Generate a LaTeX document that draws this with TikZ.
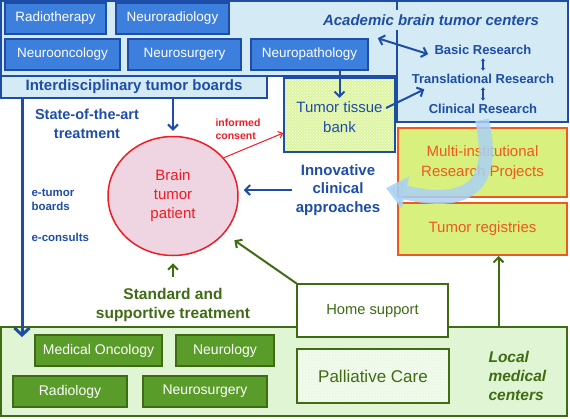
\documentclass[tikz,border=0pt]{standalone}
\usepackage{fontspec}
\setmainfont{Liberation Sans}
\usetikzlibrary{arrows.meta,shapes.geometric,patterns}
\definecolor{acadblue}{HTML}{1E4DA8}
\definecolor{acadfill}{HTML}{D4EBF5}
\definecolor{boxblue}{HTML}{3D7FDC}
\definecolor{orangeline}{HTML}{F0591E}
\definecolor{limefill}{HTML}{D8F07E}
\definecolor{patred}{HTML}{EE1C25}
\definecolor{patfill}{HTML}{EFD5E1}
\definecolor{localgreen}{HTML}{3E6B14}
\definecolor{boxgreen}{HTML}{5A9C2A}
\definecolor{localfill}{HTML}{E0F5D3}
\definecolor{bankfill}{HTML}{DDF5A0}
\definecolor{curvblue}{HTML}{A9D1F5}
\newcommand\pxfont[2]{\fontsize{#1}{#2}\selectfont}

\begin{document}
\begin{tikzpicture}[x=1pt, y=-1pt,
  bluebox/.style={draw=acadblue, fill=boxblue, line width=1.5pt, text=white, minimum height=31pt, inner sep=0pt, font=\pxfont{13.5}{16}},
  greenbox/.style={draw=localgreen, fill=boxgreen, line width=1.5pt, text=white, minimum height=31pt, inner sep=0pt, font=\pxfont{14}{16}},
  limebox/.style={draw=orangeline, fill=limefill, line width=2pt, text=orangeline, minimum width=169pt, inner sep=0pt, align=center, font=\pxfont{15}{20}},
  research/.style={text=acadblue, font=\bfseries\pxfont{13}{15}},
  bluelabel/.style={text=acadblue, align=center, font=\bfseries\pxfont{15}{18.5}},
  bluearrow/.style={acadblue, line width=2pt, -{Straight Barb[length=5pt,width=10pt]}},
  greenarrow/.style={localgreen, line width=2pt, -{Straight Barb[length=5pt,width=10pt]}}]
\useasboundingbox (0,0) rectangle (570,418);
\draw[acadblue, fill=acadfill, line width=1.5pt] (1,1) rectangle (397,76);
\draw[acadblue, fill=acadfill, line width=1.5pt] (397,1) rectangle (568,122);
\node[bluebox, minimum width=101pt] (radio) at (55.5,18.5) {Radiotherapy};
\node[bluebox, minimum width=113pt] (neurorad) at (172.5,18.5) {Neuroradiology};
\node[bluebox, minimum width=115pt] (neuroonc) at (62.5,54.5) {Neurooncology};
\node[bluebox, minimum width=113pt] (neurosurg) at (184.5,54.5) {Neurosurgery};
\node[bluebox, minimum width=117pt] (neuropath) at (309.5,54.5) {Neuropathology};
\node[draw=acadblue, fill=acadfill, line width=1.5pt, minimum width=266pt, minimum height=22pt, inner sep=0pt, text=acadblue, font=\bfseries\pxfont{15}{17}] (boards) at (134,87) {Interdisciplinary tumor boards};
\node[fill=acadfill, text=acadblue, inner sep=4pt, font=\bfseries\itshape\pxfont{15}{17}] (acad) at (431,20) {Academic brain tumor centers};
\node[research] (basic) at (483,50) {Basic Research};
\node[research] (transl) at (483,79) {Translational Research};
\node[research] (clinical) at (483,109) {Clinical Research};
\draw[acadblue, line width=1.2pt, {Stealth[length=3pt,width=4.5pt]}-{Stealth[length=3pt,width=4.5pt]}] (basic) -- (transl);
\draw[acadblue, line width=1.2pt, {Stealth[length=3pt,width=4.5pt]}-{Stealth[length=3pt,width=4.5pt]}] (transl) -- (clinical);
\node[draw=acadblue, line width=1.5pt, minimum width=111pt, minimum height=74pt, preaction={fill=bankfill}, pattern=crosshatch dots, pattern color=white] (bankbox) at (339.5,115) {};
\node[text=acadblue, align=center, font=\pxfont{15}{20}] (bank) at (339.5,117) {Tumor tissue\\bank};
\node[limebox, minimum height=69pt] (multi) at (482.5,162.5) {Multi-institutional\\Research Projects};
\node[limebox, minimum height=52pt] (reg) at (482.5,229) {Tumor registries};
\draw[curvblue, line width=14pt, opacity=0.85, -{Triangle[length=20pt,width=32pt]}] (482,120) .. controls (492,165) and (488,212) .. (386,188);
\node[ellipse, draw=patred, fill=patfill, line width=1.5pt, minimum width=130pt, minimum height=119pt, text=patred, align=center, font=\pxfont{15}{19}] (patient) at (173,196) {Brain\\tumor\\patient};
\node[bluelabel, font=\bfseries\pxfont{14.5}{19}] (sota) at (87,124) {State-of-the-art\\treatment};
\node[text=acadblue, align=left, anchor=west, font=\bfseries\pxfont{11.5}{14}] (etumor) at (28,200) {e-tumor\\boards};
\node[text=acadblue, anchor=west, font=\bfseries\pxfont{11.5}{14}] (econs) at (28,237) {e-consults};
\node[text=patred, align=left, anchor=west, font=\bfseries\pxfont{10.5}{13}] (consent) at (212,129) {informed\\consent};
\node[bluelabel] (innov) at (338,190) {Innovative\\clinical\\approaches};
\node[text=localgreen, align=center, font=\bfseries\pxfont{15.5}{19}] (std) at (173,305) {Standard and\\supportive treatment};
\node[draw=localgreen, fill=localfill, line width=1.5pt, minimum width=566pt, minimum height=89pt, inner sep=0pt] (local) at (284,371.5) {};
\node[draw=localgreen, fill=white, line width=1.5pt, minimum width=151pt, minimum height=53pt, text=localgreen, font=\pxfont{14.7}{17}] (home) at (372.5,310.5) {Home support};
\node[draw=localgreen, line width=1.5pt, minimum width=152pt, minimum height=54pt, preaction={fill=localfill!60!white}, pattern=crosshatch dots, pattern color=white] (pallbox) at (373,376) {};
\node[text=localgreen, font=\pxfont{17}{19}] (palliative) at (373,376) {Palliative Care};
\node[greenbox, minimum width=127pt] (medonc) at (98.5,350.5) {Medical Oncology};
\node[greenbox, minimum width=98pt] (neurol) at (225,350.5) {Neurology};
\node[greenbox, minimum width=114pt] (radiol) at (70,391.5) {Radiology};
\node[greenbox, minimum width=124pt] (neurosurglocal) at (205,391.5) {Neurosurgery};
\node[text=localgreen, align=left, anchor=west, font=\bfseries\itshape\pxfont{15.5}{19}] (localname) at (485,376) {Local\\medical\\centers};
\draw[bluearrow, shorten >=5pt] (boards.south -| patient.north) -- (patient.north);
\coordinate (etip) at (22,337);
\draw[acadblue, line width=3pt, -{Straight Barb[length=7pt,width=15pt]}] (boards.south -| etip) -- (etip);
\draw[acadblue, line width=2pt, {Straight Barb[length=5pt,width=10pt]}-{Straight Barb[length=5pt,width=10pt]}, shorten >=3pt] ([xshift=9pt]neuropath.north east) -- ([yshift=-5pt]basic.west);
\draw[bluearrow] (neuropath.south -| bank.north) -- (bank.north);
\draw[bluearrow] ([yshift=9pt]bank.east) -- ([xshift=16pt,yshift=-2pt]transl.south west);
\draw[patred, line width=1pt, -{Straight Barb[length=4pt,width=7pt]}] (patient.37) -- ([yshift=-18pt]bankbox.west);
\draw[bluearrow, shorten >=5pt] (innov.west) -- (innov.west -| patient.east);
\draw[greenarrow, shorten <=8pt, shorten >=7pt] (std.north) -- (patient.south);
\draw[greenarrow, shorten >=12pt] (home.north west) -- (patient.-36);
\coordinate (regfoot) at ([xshift=16pt]reg.south);
\draw[greenarrow] (local.north -| regfoot) -- (regfoot);
\end{tikzpicture}
\end{document}
